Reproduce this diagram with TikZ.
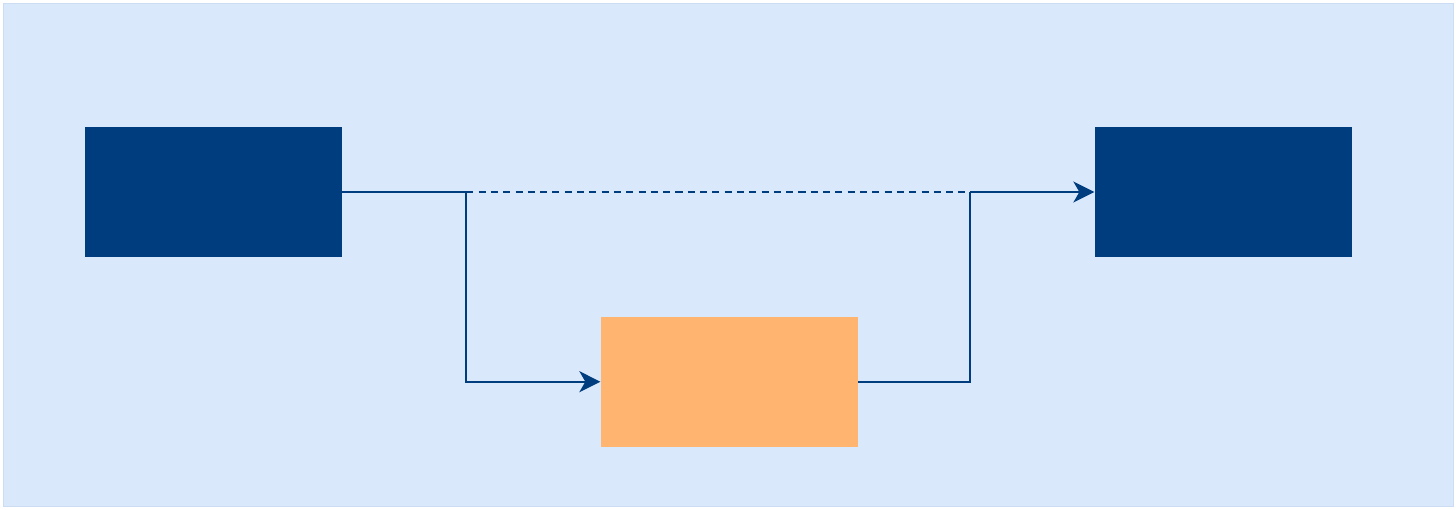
\documentclass[tikz,border=0pt]{standalone}
\usetikzlibrary{positioning,arrows.meta}

\definecolor{paneblue}{HTML}{DAE8FC}
\definecolor{paneedge}{HTML}{CCDCF2}
\definecolor{darkblue}{HTML}{003D7E}
\definecolor{lightorange}{HTML}{FFB570}

\begin{document}
\begin{tikzpicture} [node distance=3cm, box/.style={rectangle, draw=none, inner sep=0pt, minimum width=5.14cm, minimum height=2.6cm}, link/.style={draw=darkblue, line width=1.2pt}, tip/.style={-{Stealth[length=0.42cm,width=0.42cm,inset=0.12cm]}}]
  % Background pane
  \useasboundingbox (0,0) rectangle (29.12,-10.18);
  \fill [white] (0,0) rectangle (29.12,-10.18);
  \filldraw [fill=paneblue, draw=paneedge, line width=0.5pt] (0.06,-0.06) rectangle (29.06,-10.12);
  % Boxes
  \node [box, fill=darkblue] (source) at (4.27,-3.84) {};
  \node [box, fill=darkblue, right=15.04cm of source] (target) {};
  \node [box, fill=lightorange, below right=1.18cm and 5.16cm of source.south east] (detour) {};
  % Split and join points
  \coordinate [right=2.48cm of source.east] (split);
  \coordinate [left=2.48cm of target.west] (join);
  % Draw edges
  \draw [link] (source.east) -- (split);
  \draw [link, dash pattern=on 4pt off 3pt] (split) -- (join);
  \draw [link, tip] (join) -- (target.west);
  \draw [link, tip] (split) |- (detour.west);
  \draw [link] (detour.east) -| (join);
\end{tikzpicture}
\end{document}
